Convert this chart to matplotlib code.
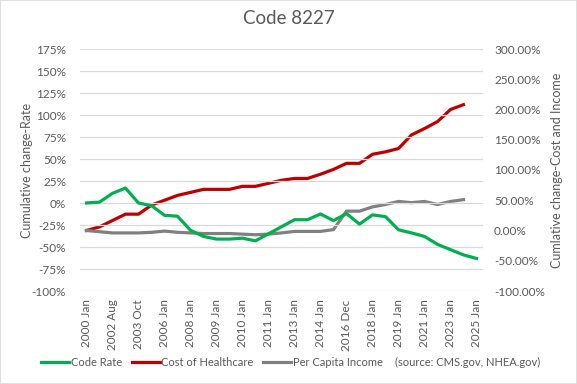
import numpy as np
import matplotlib
matplotlib.use("Agg")
import matplotlib.pyplot as plt
from matplotlib.ticker import FuncFormatter
from matplotlib.patches import Rectangle

plt.rcParams['font.family'] = ['Lato', 'DejaVu Sans']

# categorie (solo una su due compare sull'asse)
periods = [
    "2000 Jan", "2001 Jan", "2002 Aug", "2003 Jan", "2003 Oct", "2005 Jan",
    "2006 Jan", "2007 Jan", "2008 Jan", "2008 Jul", "2009 Jan", "2009 Jul",
    "2010 Jan", "2010 Jul", "2011 Jan", "2012 Jan", "2013 Jan", "2013 Jul",
    "2014 Jan", "2015 Jan", "2016 Dec", "2017 Jan", "2018 Jan", "2018 Jul",
    "2019 Jan", "2020 Jan", "2021 Jan", "2022 Jan", "2023 Jan", "2024 Jan",
    "2025 Jan",
]

# variazione cumulata (%)
code_rate = [0, 1, 11, 17, 0, -3, -14, -15, -31, -38, -41, -41, -40, -43,
             -35, -27, -19, -19, -12.5, -20, -12, -24, -13.5, -15.5, -30.5,
             -34, -38, -47, -53, -59, -63]
cost_healthcare = [0, 6, 16.5, 27, 27, 42, 50, 58, 63, 68, 68, 68, 73, 73,
                   78, 83, 86, 86, 93, 101, 111, 111, 126, 130, 135.5, 158,
                   168.5, 180, 200, 208]
per_capita_income = [0, -2, -4, -4, -4, -3, -1, -3, -4, -5, -5, -5, -6, -7,
                     -6, -4, -1.5, -1.5, -1.5, 1.5, 32, 32, 39, 43, 48, 46,
                     48, 43, 48, 51]

GREEN = '#00B050'
RED = '#C00000'
GRAY = '#808080'
TXT = '#595959'

fig = plt.figure(figsize=(5.77, 3.84), dpi=100)
ax = fig.add_axes([80 / 577, 1 - 291 / 384, 403 / 577, 242 / 384])
ax2 = ax.twinx()

x = np.arange(len(periods))
ax.plot(x, code_rate, color=GREEN, lw=2.3, solid_joinstyle='round', zorder=3)
ax2.plot(x[:len(cost_healthcare)], cost_healthcare, color=RED, lw=2.3,
         solid_joinstyle='round')
ax2.plot(x[:len(per_capita_income)], per_capita_income, color=GRAY, lw=2.3,
         solid_joinstyle='round')

ax.set_xlim(-0.5, len(periods) - 0.5)
ax.set_ylim(-100, 175)
ax.set_yticks(np.arange(-100, 176, 25))
ax.yaxis.set_major_formatter(FuncFormatter(lambda v, p: f"{v:.0f}%"))
ax2.set_ylim(-100, 300)
ax2.set_yticks(np.arange(-100, 301, 50))
ax2.yaxis.set_major_formatter(FuncFormatter(lambda v, p: f"{v:.2f}%"))

ax.set_xticks(x[::2])
ax.set_xticklabels(periods[::2], rotation=90)

ax.grid(axis='y', color='#D9D9D9', lw=0.9)
ax.set_axisbelow(True)
for a in (ax, ax2):
    for s in a.spines.values():
        s.set_visible(False)
    a.tick_params(length=0, labelsize=8.5, labelcolor=TXT)
ax.tick_params(axis='y', pad=10)
ax2.tick_params(axis='y', pad=8)
ax.tick_params(axis='x', pad=6)
ax.set_zorder(ax2.get_zorder() + 1)
ax.patch.set_visible(False)

ax.set_ylabel("Cumulative change-Rate", fontsize=9, color=TXT, labelpad=-1)
ax2.set_ylabel("Cumlative change-Cost and Income", fontsize=9, color=TXT,
               labelpad=4)

fig.text(0.5, 1 - 18 / 384, "Code 8227", ha='center', va='center',
         fontsize=13.5, color=TXT)

# legenda in basso
handles = [plt.Line2D([], [], color=c, lw=2.3) for c in (GREEN, RED, GRAY)]
fig.legend(handles, ["Code Rate", "Cost of Healthcare", "Per Capita Income"],
           loc='center', bbox_to_anchor=(212 / 577, 1 - 362 / 384), ncol=3,
           frameon=False, fontsize=8, handlelength=2.5, handletextpad=0.15,
           columnspacing=0.9, labelcolor=TXT, borderpad=0, borderaxespad=0)
fig.text(395 / 577, 1 - 362 / 384, "(source: CMS.gov, NHEA.gov)",
         ha='left', va='center', fontsize=8, color=TXT)

fig.patches.append(Rectangle((0, 0), 1, 1, transform=fig.transFigure,
                             fill=False, ec='#D9D9D9', lw=1.2))

fig.savefig("out.png", dpi=100)
